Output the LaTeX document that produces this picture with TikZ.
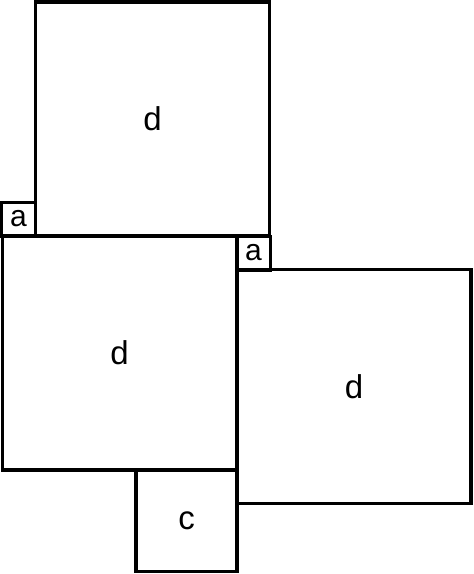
\documentclass[tikz,border=0pt]{standalone}
\usepackage{fontspec}
\setmainfont{Liberation Sans}
\usepackage{tikz}
\usetikzlibrary{positioning}
\tikzstyle{square}=[draw=black, line width=1.75pt, inner sep=0pt, outer sep=0pt, font=\fontsize{16.5}{18}\selectfont]
\tikzstyle{big}=[square, minimum size=117pt]
\tikzstyle{small}=[square, minimum size=16.75pt, font=\fontsize{15}{16}\selectfont]

\begin{document}
\begin{tikzpicture}[x=0.5pt, y=-0.5pt]
    \useasboundingbox (0,0) rectangle (474,574);
    \node[big] (top)   at (152.5,119)  {d};
    \node[small] (a1)  at (18.5,219)   {a};
    \node[big] (mid)   at (119.5,353)  {d};
    \node[small] (a2)  at (253.5,253)  {a};
    \node[big] (right) at (354,386.5)  {d};
    \node[square, minimum size=50.5pt] (c) at (186.5,521) {c};
  \end{tikzpicture}
\end{document}
